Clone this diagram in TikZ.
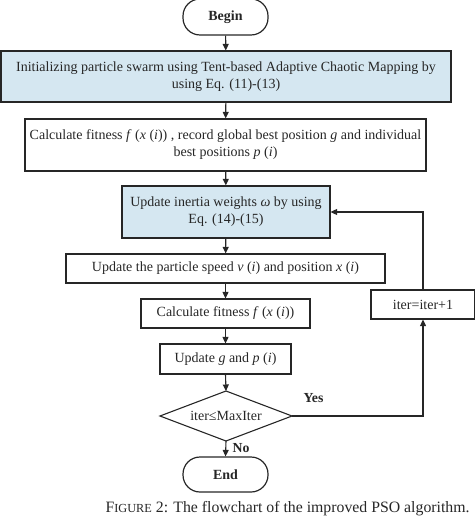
\documentclass[tikz,border=0pt]{standalone}
\usepackage{fontspec}
\setmainfont{Liberation Serif}
\usetikzlibrary{arrows.meta}
\definecolor{ink}{HTML}{262626}
\definecolor{boxblue}{HTML}{D5E7F1}
\tikzset{
  every node/.style={text=ink, font=\fontsize{14}{17}\selectfont},
  proc/.style={draw=ink, line width=1.2pt, rectangle, align=center, inner sep=0pt},
  blueproc/.style={proc, fill=boxblue},
  term/.style={draw=ink, line width=1.2pt, rectangle, rounded corners=17pt, inner sep=0pt},
  decis/.style={draw=ink, line width=1.1pt, inner sep=0pt},
  flow/.style={draw=ink, line width=1.1pt, -{Triangle[length=6.5pt,width=6pt]}},
  lbl/.style={font=\fontsize{13.8}{15}\selectfont\bfseries}
}
\begin{document}
\begin{tikzpicture}[x=1pt,y=-1pt]
\useasboundingbox (0,0) rectangle (474,518);
\node[term, minimum width=85pt, minimum height=36pt] (begin) at (225.5,17) {\textbf{Begin}};
\node[blueproc, minimum width=450pt, minimum height=51pt] (init) at (226,76.5)
  {Initializing particle swarm using Tent-based Adaptive Chaotic Mapping by\\using Eq. (11)-(13)};
\node[proc, minimum width=401pt, minimum height=52pt] (fit0) at (225.5,145)
  {Calculate fitness \textit{f} (\textit{x} (\textit{i})) , record global best position \textit{g} and individual\\best positions \textit{p} (\textit{i})};
\node[blueproc, minimum width=208pt, minimum height=52pt] (inertia) at (226,212)
  {Update inertia weights \textit{ω} by using\\Eq. (14)-(15)};
\node[proc, minimum width=319pt, minimum height=29pt] (speed) at (225.5,268.5)
  {Update the particle speed \textit{v} (\textit{i}) and position \textit{x} (\textit{i})};
\node[proc, minimum width=169pt, minimum height=29pt] (fit) at (225.5,313.5)
  {Calculate fitness \textit{f} (\textit{x} (\textit{i}))};
\node[proc, minimum width=131pt, minimum height=30pt] (upd) at (225.5,359)
  {Update \textit{g} and \textit{p} (\textit{i})};
\node[proc, minimum width=104pt, minimum height=29pt] (iter) at (423,304.5)
  {iter=iter+1};
\coordinate (dc) at (226,416);
\draw[decis] (160,416) coordinate (dW) -- (226,391) coordinate (dN) -- (292,416) coordinate (dE) -- (226,441) coordinate (dS) -- cycle;
\node (dec) at (dc) {iter≤MaxIter};
\node[term, minimum width=85pt, minimum height=35pt] (end) at (225.5,474.5) {\textbf{End}};
\draw[flow] (begin) -- (init);
\draw[flow] (init) -- (fit0);
\draw[flow] (fit0) -- (inertia);
\draw[flow] (inertia) -- (speed);
\draw[flow] (speed) -- (fit);
\draw[flow] (fit) -- (upd);
\draw[flow] (upd.south) -- (dN);
\draw[flow] (dS) -- (end.north);
\draw[flow] (dE) -| (iter.south);
\draw[flow] (iter.north) |- (inertia.east);
\node[lbl, anchor=west] (yes) at (300,398) {Yes};
\node[lbl, anchor=west] (no) at (229,448) {No};
\node[anchor=base west, font=\fontsize{15.8}{18}\selectfont] (cap) at (102,512.5)
  {F{\fontsize{12.3}{14}\selectfont IGURE} 2: The flowchart of the improved PSO algorithm.};
\end{tikzpicture}
\end{document}
